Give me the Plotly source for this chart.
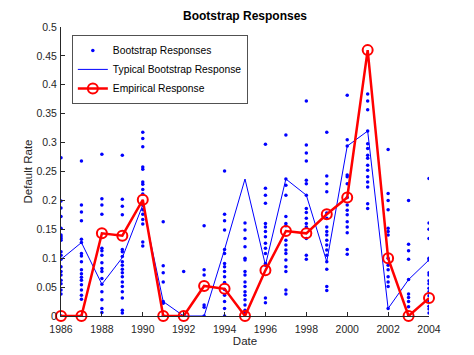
import plotly.graph_objects as go

years = list(range(1986, 2005))

empirical = [0.0, 0.0, 0.143, 0.139, 0.201, 0.0, 0.0, 0.052, 0.047, 0.0,
             0.079, 0.147, 0.143, 0.176, 0.205, 0.460, 0.100, 0.0, 0.031]

typical = [0.098, 0.127, 0.055, 0.101, 0.192, 0.025, 0.0, 0.0, 0.115, 0.237,
           0.088, 0.237, 0.209, 0.094, 0.294, 0.320, 0.013, 0.063, 0.097]

b1986 = [0.274, 0.199, 0.187, 0.172, 0.152, 0.140, 0.137, 0.134, 0.131, 0.111,
         0.105, 0.098, 0.085, 0.077, 0.071, 0.062, 0.056, 0.045, 0.038, 0.0]
b1987 = [0.268, 0.192, 0.180, 0.165, 0.133, 0.127, 0.108, 0.104, 0.094, 0.080,
         0.073, 0.067, 0.062, 0.054, 0.045, 0.036, 0.029, 0.0]
b1988 = [0.280, 0.203, 0.192, 0.176, 0.117, 0.113, 0.105, 0.092, 0.082, 0.077,
         0.065, 0.055, 0.042, 0.028, 0.013, 0.006]
b1989 = [0.278, 0.202, 0.190, 0.175, 0.115, 0.111, 0.103, 0.094, 0.088, 0.081,
         0.075, 0.068, 0.059, 0.051, 0.042, 0.031, 0.010, 0.005]
b1990 = [0.395, 0.318, 0.307, 0.293, 0.258, 0.254, 0.232, 0.228, 0.219, 0.211,
         0.192, 0.184, 0.176, 0.167, 0.159, 0.128, 0.121]
b1991 = [0.163, 0.087, 0.075, 0.059, 0.025, 0.022, 0.0]
b1992 = [0.077, 0.0]
b1993 = [0.156, 0.080, 0.071, 0.019, 0.015, 0.0]
b1994 = [0.251, 0.176, 0.165, 0.149, 0.115, 0.108, 0.091, 0.085, 0.077, 0.068,
         0.058, 0.046, 0.036, 0.025, 0.013, 0.0]
b1995 = [0.161, 0.149, 0.134, 0.120, 0.100, 0.097, 0.077, 0.071, 0.059, 0.051,
         0.042, 0.036, 0.028, 0.019, 0.010, 0.006]
b1996 = [0.297, 0.221, 0.209, 0.195, 0.160, 0.154, 0.146, 0.137, 0.126, 0.117,
         0.108, 0.091, 0.088, 0.031, 0.023]
b1997 = [0.313, 0.237, 0.226, 0.209, 0.172, 0.160, 0.156, 0.131, 0.123, 0.114,
         0.108, 0.097, 0.085, 0.077, 0.045, 0.038]
b1998 = [0.372, 0.296, 0.282, 0.268, 0.235, 0.229, 0.209, 0.186, 0.179, 0.169,
         0.160, 0.154, 0.134, 0.105, 0.098]
b1999 = [0.318, 0.242, 0.229, 0.215, 0.178, 0.169, 0.154, 0.146, 0.140, 0.131,
         0.123, 0.114, 0.105, 0.094, 0.081, 0.051, 0.044]
b2000 = [0.382, 0.305, 0.294, 0.244, 0.241, 0.229, 0.205, 0.192, 0.183, 0.175,
         0.163, 0.154, 0.144, 0.115, 0.107]
b2001 = [0.384, 0.372, 0.357, 0.320, 0.298, 0.290, 0.278, 0.273, 0.261, 0.252,
         0.241, 0.232, 0.223, 0.194, 0.186]
b2002 = [0.288, 0.212, 0.200, 0.184, 0.152, 0.146, 0.140, 0.100, 0.088, 0.080,
         0.068, 0.059, 0.051, 0.013]
b2003 = [0.200, 0.124, 0.113, 0.098, 0.063, 0.038, 0.032, 0.025, 0.016, 0.0]
b2004 = [0.238, 0.161, 0.150, 0.134, 0.100, 0.097, 0.075, 0.071, 0.061, 0.056,
         0.048, 0.042, 0.035, 0.025, 0.017, 0.012, 0.005]

bootstrap = [b1986, b1987, b1988, b1989, b1990, b1991, b1992, b1993, b1994, b1995,
             b1996, b1997, b1998, b1999, b2000, b2001, b2002, b2003, b2004]

x_ticks = list(range(1986, 2005, 2))
y_ticks = [0, 0.05, 0.1, 0.15, 0.2, 0.25, 0.3, 0.35, 0.4, 0.45, 0.5]
y_tick_text = ["0", "0.05", "0.1", "0.15", "0.2", "0.25", "0.3", "0.35", "0.4", "0.45", "0.5"]

bx, by = [], []
for yr, vals in zip(years, bootstrap):
    for v in vals:
        bx.append(yr)
        by.append(v)

FONT = "Liberation Sans, Arial, Helvetica, sans-serif"
AX = "#262626"

fig = go.Figure()
fig.add_trace(go.Scatter(
    x=bx, y=by, mode="markers", name="Bootstrap Responses",
    marker=dict(color="#0000ff", size=3.5, line=dict(width=0)),
))
fig.add_trace(go.Scatter(
    x=years, y=typical, mode="lines", name="Typical Bootstrap Response",
    line=dict(color="#0000ff", width=1),
))
fig.add_trace(go.Scatter(
    x=years, y=empirical, mode="lines+markers", name="Empirical Response",
    line=dict(color="#ff0000", width=2.5),
    marker=dict(symbol="circle-open", size=10, color="#ff0000", line=dict(width=2)),
    cliponaxis=False,
))

# The page body adds an 8px offset, so margins are set to compensate.
fig.update_layout(
    width=474, height=355,
    margin=dict(l=53, r=53, t=19, b=47, autoexpand=False),
    paper_bgcolor="white", plot_bgcolor="white",
    font=dict(family=FONT, size=10.5, color=AX),
    title=dict(text="<b>Bootstrap Responses</b>", x=0.5, xref="paper", xanchor="center",
               y=1, yref="container", yanchor="top", pad=dict(t=4),
               font=dict(family=FONT, size=12, color="black")),
    showlegend=True,
    legend=dict(x=0.03, y=0.972, xanchor="left", yanchor="top",
                bgcolor="white", bordercolor=AX, borderwidth=0.8,
                font=dict(family=FONT, size=10.3, color="black"),
                tracegroupgap=0, itemwidth=30),
)
fig.update_xaxes(
    range=[1986, 2004], tickvals=x_ticks, ticktext=[str(t) for t in x_ticks],
    showline=True, linecolor=AX, linewidth=1, ticks="inside", ticklen=4,
    tickcolor=AX, showgrid=False, zeroline=False, automargin=False,
    ticklabelstandoff=3,
    title=dict(text="Date", standoff=0, font=dict(family=FONT, size=11.5, color=AX)),
)
fig.update_yaxes(
    range=[0, 0.5], tickvals=y_ticks, ticktext=y_tick_text,
    showline=True, linecolor=AX, linewidth=1, ticks="inside", ticklen=4,
    tickcolor=AX, showgrid=False, zeroline=False, automargin=False,
    ticklabelstandoff=1,
    title=dict(text="Default Rate", standoff=1, font=dict(family=FONT, size=11.5, color=AX)),
)

fig.write_html("out.html")
